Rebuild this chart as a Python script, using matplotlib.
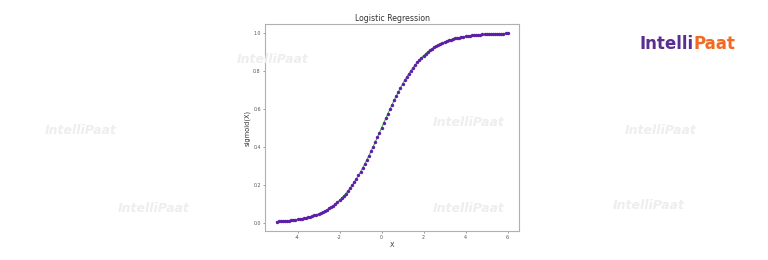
import numpy as np
import matplotlib
matplotlib.use("Agg")
import matplotlib.pyplot as plt

x_values = np.round(np.arange(-50, 61) / 10.0, 1)
y_values = [
    0.0067, 0.0074, 0.0082, 0.0090, 0.0100, 0.0110, 0.0121, 0.0134, 0.0148, 0.0163,
    0.0180, 0.0198, 0.0219, 0.0241, 0.0266, 0.0293, 0.0323, 0.0356, 0.0392, 0.0431,
    0.0474, 0.0522, 0.0573, 0.0630, 0.0691, 0.0759, 0.0832, 0.0911, 0.0998, 0.1091,
    0.1192, 0.1301, 0.1419, 0.1545, 0.1680, 0.1824, 0.1978, 0.2142, 0.2315, 0.2497,
    0.2689, 0.2891, 0.3100, 0.3318, 0.3543, 0.3775, 0.4013, 0.4256, 0.4502, 0.4750,
    0.5000,
    0.5250, 0.5498, 0.5744, 0.5987, 0.6225, 0.6457, 0.6682, 0.6900, 0.7109, 0.7311,
    0.7503, 0.7685, 0.7858, 0.8022, 0.8176, 0.8320, 0.8455, 0.8581, 0.8699, 0.8808,
    0.8909, 0.9002, 0.9089, 0.9168, 0.9241, 0.9309, 0.9370, 0.9427, 0.9478, 0.9526,
    0.9569, 0.9608, 0.9644, 0.9677, 0.9707, 0.9734, 0.9759, 0.9781, 0.9802, 0.9820,
    0.9837, 0.9852, 0.9866, 0.9879, 0.9890, 0.9900, 0.9910, 0.9918, 0.9926, 0.9933,
    0.9939, 0.9945, 0.9950, 0.9955, 0.9959, 0.9963, 0.9967, 0.9970, 0.9973, 0.9975,
]
x_ticks = [-4, -2, 0, 2, 4, 6]
y_ticks = [0.0, 0.2, 0.4, 0.6, 0.8, 1.0]

fig = plt.figure(figsize=(7.68, 2.6), dpi=100)
fig.patch.set_facecolor("white")

# watermarks
wm_positions = [(0.355, 0.77), (0.105, 0.50), (0.61, 0.53), (0.86, 0.50),
                (0.2, 0.20), (0.61, 0.20), (0.845, 0.21)]
for (wx, wy) in wm_positions:
    fig.text(wx, wy, "IntelliPaat", fontsize=9, fontweight="bold", style="italic",
             color="#eeeeee", ha="center", va="center", zorder=0)

ax = fig.add_axes([0.345, 0.1115, 0.331, 0.7962])
ax.patch.set_alpha(0)
ax.plot(x_values, y_values, color="#3cb043", lw=0.8, zorder=2)
ax.scatter(x_values, y_values, s=6, color="#5b1fa8", zorder=3, linewidths=0)

ax.set_xticks(x_ticks)
ax.set_yticks(y_ticks)
ax.set_xticklabels([str(t) for t in x_ticks])
ax.set_yticklabels([f"{t:.1f}" for t in y_ticks])
ax.tick_params(labelsize=3.4, colors="#555555", length=1.5, width=0.4, pad=1.5)
for s in ax.spines.values():
    s.set_color("#b0b0b0")
    s.set_linewidth(0.8)
ax.set_title("Logistic Regression", fontsize=5.6, color="#333333", pad=2)
ax.set_xlabel("X", fontsize=4.8, color="#333333", labelpad=1)
ax.set_ylabel("sigmoid(X)", fontsize=4.8, color="#333333", labelpad=2)

# logo
t1 = fig.text(0.833, 0.83, "Intelli", fontsize=12, fontweight="bold", color="#5a2d91",
              ha="left", va="center")
fig.canvas.draw()
bb = t1.get_window_extent(renderer=fig.canvas.get_renderer())
x_next = bb.x1 / fig.bbox.width
fig.text(x_next, 0.83, "Paat", fontsize=12, fontweight="bold", color="#f26a21",
         ha="left", va="center")

fig.savefig("out.png", dpi=100)
